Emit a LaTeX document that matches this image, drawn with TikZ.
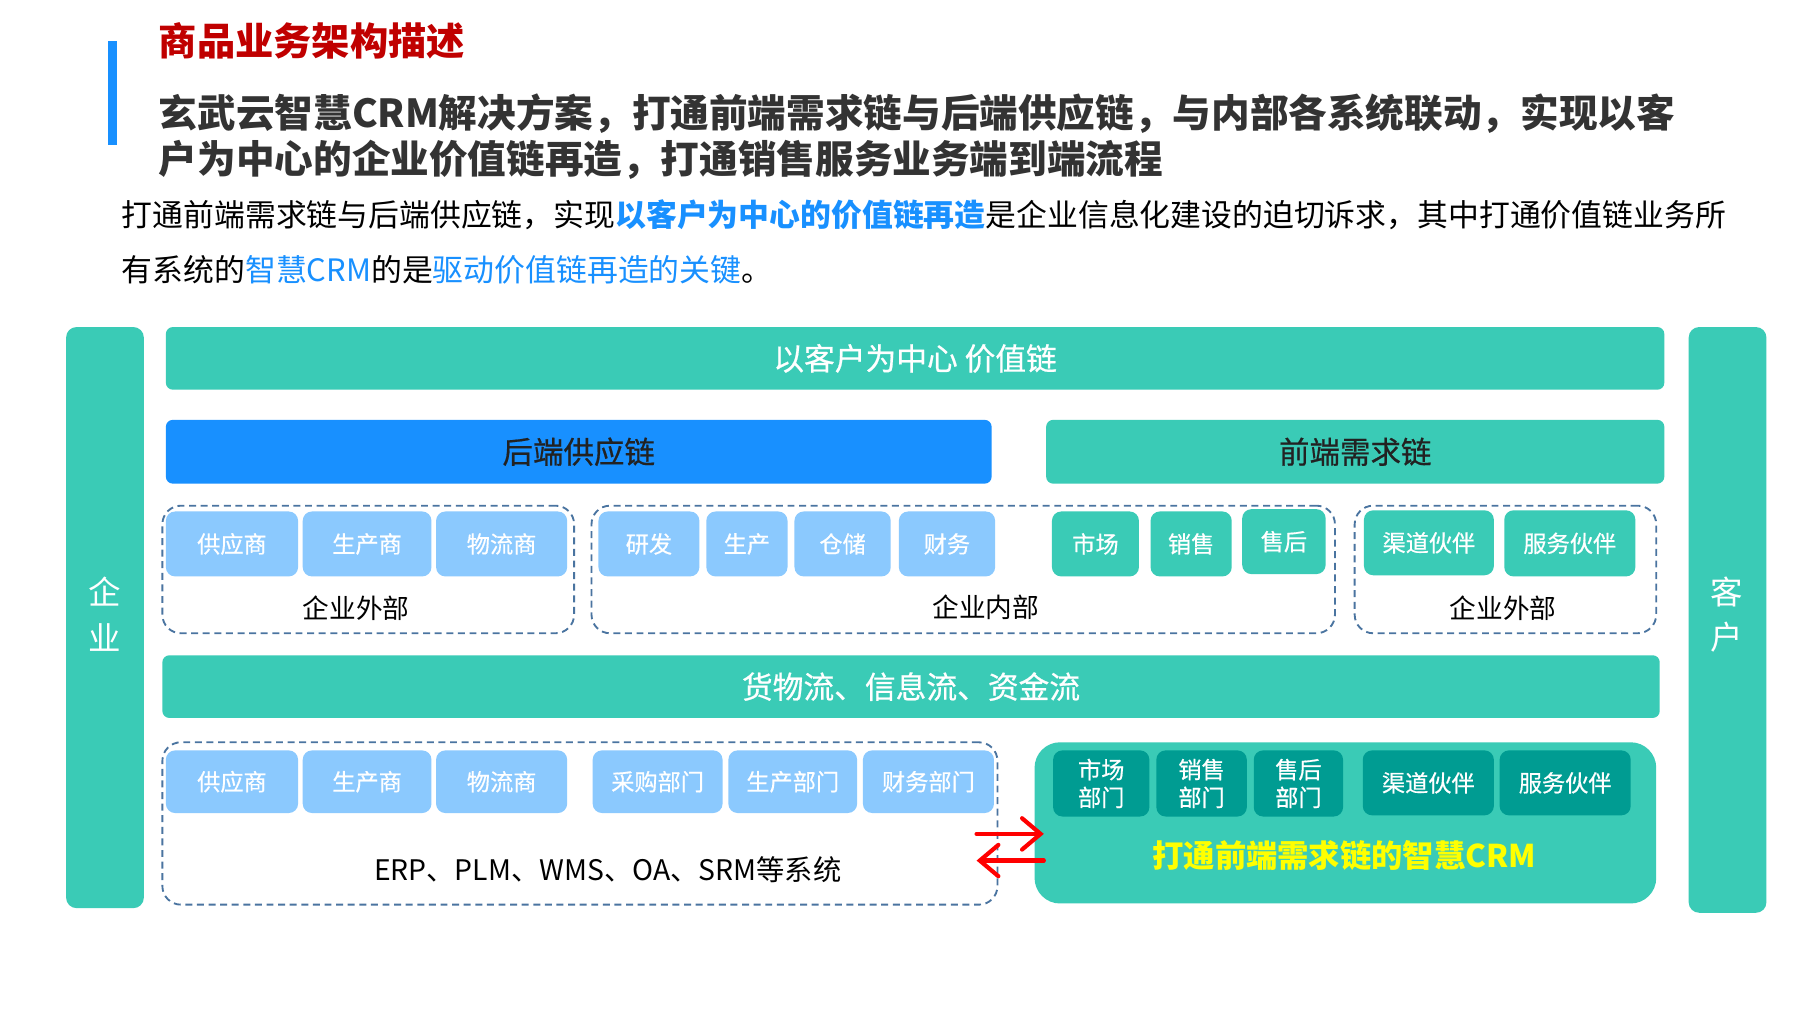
\documentclass[tikz,border=0pt]{standalone}
\usepackage{fontspec}
\setmainfont{Noto Sans CJK SC}
\newfontfamily\medfont[FakeBold=0.6]{Noto Sans CJK SC}
\usetikzlibrary{arrows.meta}
\definecolor{tealc}{HTML}{3ACBB6}
\definecolor{lblue}{HTML}{8BC9FE}
\definecolor{bblue}{HTML}{1890FF}
\definecolor{dteal}{HTML}{009C92}
\definecolor{dashc}{HTML}{4A74A0}
\definecolor{titred}{HTML}{C00000}
\definecolor{subgray}{HTML}{333333}
\definecolor{crmyel}{HTML}{FFFF00}
\definecolor{bartext}{HTML}{222222}
\newcommand{\myfs}[1]{\fontsize{#1}{#1}\selectfont}
\newcommand{\bx}[7]{\node[#1, minimum width=#5pt-#3pt, minimum height=#6pt-#4pt] (#2) at (#3,#4) {#7};}
\begin{document}
\begin{tikzpicture}[x=1pt,y=-1pt,
  every node/.style={inner sep=0pt,outer sep=0pt},
  base/.style={anchor=north west, align=center},
  col/.style={base, fill=tealc, rounded corners=9pt},
  coltext/.style={align=center, text=white, font=\fontsize{28}{39}\selectfont},
  tbar/.style={base, fill=tealc, rounded corners=6pt, text=white, font=\medfont\myfs{26.5}},
  bbar/.style={base, fill=bblue, rounded corners=6pt, text=bartext, font=\medfont\myfs{26.3}},
  fbar/.style={base, fill=tealc, rounded corners=6pt, text=bartext, font=\medfont\myfs{26.3}},
  lb/.style={base, fill=lblue, rounded corners=8pt, text=white, font=\medfont\myfs{20}},
  tb/.style={base, fill=tealc, rounded corners=8pt, text=white, font=\medfont\myfs{20}},
  db/.style={base, fill=dteal, rounded corners=8pt, text=white, font=\medfont\fontsize{20}{24}\selectfont},
  dashbox/.style={base, draw=dashc, dash pattern=on 6pt off 4pt, line width=1.6pt, rounded corners=16pt},
  crmbox/.style={base, fill=tealc, rounded corners=22pt},
  grp/.style={font=\myfs{23}, text=black},
  link/.style={draw=red, line width=3.6pt, line cap=round, -{Straight Barb[length=16pt,width=27pt,line cap=round]}}
]
\useasboundingbox[fill=white] (0,0) rectangle (1567.5,879.4);
% header
\bx{base, fill=bblue}{accent}{93}{35}{101}{125}{}
\node[anchor=west, font=\bfseries\myfs{33}, text=titred] (title) at (137,35) {商品业务架构描述};
\node[anchor=west, font=\bfseries\myfs{33.3}, text=subgray] (sub1) at (137,98) {玄武云智慧CRM解决方案，打通前端需求链与后端供应链，与内部各系统联动，实现以客};
\node[anchor=west, font=\bfseries\myfs{33.3}, text=subgray] (sub2) at (137,138) {户为中心的企业价值链再造，打通销售服务业务端到端流程};
\node[anchor=west, font=\myfs{26.6}, text=black] (para1) at (105,185) {打通前端需求链与后端供应链，实现\textcolor{bblue}{\bfseries 以客户为中心的价值链再造}是企业信息化建设的迫切诉求，其中打通价值链业务所};
\node[anchor=west, font=\myfs{26.6}, text=black] (para2) at (105,233) {有系统的\textcolor{bblue}{智慧CRM}的是\textcolor{bblue}{驱动价值链再造的关键}。};
% side columns
\bx{col}{ent}{57}{282}{124}{783}{}
\node[coltext] (entl) at (90.5,529.5) {企\\业};
\bx{col}{cust}{1456}{282}{1523}{787}{}
\node[coltext] (custl) at (1488.5,530) {客\\户};
% bars
\bx{tbar}{value}{143}{282}{1435}{336}{以客户为中心 价值链}
\bx{bbar}{back}{143}{362}{855}{417}{后端供应链}
\bx{fbar}{front}{902}{362}{1435}{417}{前端需求链}
% row 1 groups
\bx{dashbox}{g1}{140}{436}{495}{546}{}
\bx{lb}{a1}{143}{441}{257}{497}{供应商}
\bx{lb}{a2}{261}{441}{372}{497}{生产商}
\bx{lb}{a3}{376}{441}{489}{497}{物流商}
\node[grp] (g1l) at (307,524) {企业外部};
\bx{dashbox}{g2}{510}{436}{1151}{546}{}
\bx{lb}{b1}{516}{441}{603}{497}{研发}
\bx{lb}{b2}{609}{441}{679}{497}{生产}
\bx{lb}{b3}{685}{441}{768}{497}{仓储}
\bx{lb}{b4}{775}{441}{858}{497}{财务}
\bx{tb}{b5}{907}{441}{982}{497}{市场}
\bx{tb}{b6}{992}{441}{1062}{497}{销售}
\bx{tb}{b7}{1071}{439}{1143}{495}{售后}
\node[grp] (g2l) at (850,524) {企业内部};
\bx{dashbox}{g3}{1168}{436}{1428}{546}{}
\bx{tb}{c1}{1176}{440}{1288}{496}{渠道伙伴}
\bx{tb}{c2}{1297}{440}{1410}{497}{服务伙伴}
\node[grp] (g3l) at (1296,524) {企业外部};
% flow bar
\bx{tbar}{flow}{140}{565}{1431}{619}{货物流、信息流、资金流}
% bottom left group
\bx{dashbox}{g4}{140}{640}{860}{780}{}
\bx{lb}{d1}{143}{647}{257}{701}{供应商}
\bx{lb}{d2}{261}{647}{372}{701}{生产商}
\bx{lb}{d3}{376}{647}{489}{701}{物流商}
\bx{lb}{d4}{511}{647}{623}{701}{采购部门}
\bx{lb}{d5}{628}{647}{739}{701}{生产部门}
\bx{lb}{d6}{744}{647}{857}{701}{财务部门}
\node[grp, font=\myfs{24.4}] (g4l) at (524,750) {ERP、PLM、WMS、OA、SRM等系统};
% CRM group
\bx{crmbox}{crm}{892}{640}{1428}{779}{}
\bx{db}{e1}{908}{647}{991}{704}{市场\\部门}
\bx{db}{e2}{997}{647}{1075}{704}{销售\\部门}
\bx{db}{e3}{1081}{647}{1158}{704}{售后\\部门}
\bx{db}{e4}{1175}{647}{1288}{703}{渠道伙伴}
\bx{db}{e5}{1293}{647}{1406}{703}{服务伙伴}
\node[font=\bfseries\myfs{27}, text=crmyel] (crml) at (1159,738) {打通前端需求链的智慧CRM};
% arrows
\coordinate (ua) at (842,719);
\coordinate (ub) at (900,719);
\coordinate (la) at (900,742);
\coordinate (lb) at (842,742);
\draw[link] (ua) -- (ub);
\draw[link] (la) -- (lb);
\end{tikzpicture}
\end{document}
